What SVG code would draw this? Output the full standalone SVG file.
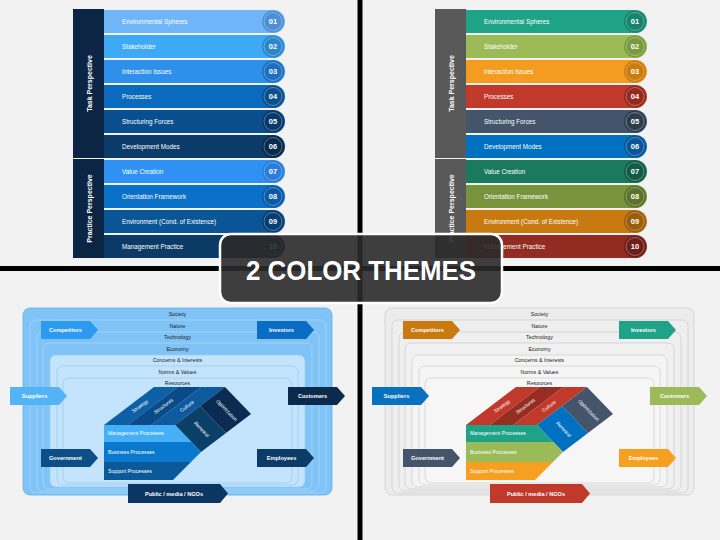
<svg xmlns="http://www.w3.org/2000/svg" width="720" height="540" viewBox="0 0 720 540">
<defs>
<style>
text{font-family:"Liberation Sans",Arial,sans-serif}
.rt{font-size:6.3px;fill:#fff}
.num{font-size:7.5px;font-weight:bold;fill:#fff;text-anchor:middle}
.ring{fill:none;stroke:#fff;stroke-opacity:.45;stroke-width:.7}
.vt{font-size:7px;font-weight:bold;fill:#fff;text-anchor:middle}
.fl{font-size:5.3px;fill:#222;text-anchor:middle}
.tg{font-size:5.6px;font-weight:bold;fill:#fff;text-anchor:middle}
.cl{font-size:5.2px;fill:#fff}
.cr{font-size:5px;fill:#fff;text-anchor:middle}
.fo{stroke-width:.8}
</style>
</defs>
<rect width="720" height="540" fill="#f2f2f2"/>

<!-- TOP LEFT: blue list -->
<g id="list-blue">
<g id="bar-blue">
<rect x="73" y="9" width="31" height="149" fill="#0c2544"/>
<rect x="73" y="159" width="31" height="99" fill="#0c2544"/>
<text class="vt" transform="translate(91.5,83.5) rotate(-90)">Task Perspective</text>
<text class="vt" transform="translate(91.5,208.5) rotate(-90)">Practice Perspective</text>
</g>
<g id="b01"><path d="M104,10H273.5A11.5,11.5 0 0 1 273.5,33H104Z" fill="#6fb5f8"/><circle cx="273" cy="21.5" r="11" fill="#4d8fd4"/><circle class="ring" cx="273" cy="21.5" r="9"/><text class="rt" x="122" y="23.8">Environmental Spheres</text><text class="num" x="273" y="24.2">01</text></g>
<g id="b02"><path d="M104,35H273.5A11.5,11.5 0 0 1 273.5,58H104Z" fill="#3ea9f5"/><circle cx="273" cy="46.5" r="11" fill="#2b86cc"/><circle class="ring" cx="273" cy="46.5" r="9"/><text class="rt" x="122" y="48.8">Stakeholder</text><text class="num" x="273" y="49.2">02</text></g>
<g id="b03"><path d="M104,60H273.5A11.5,11.5 0 0 1 273.5,83H104Z" fill="#2e90ea"/><circle cx="273" cy="71.5" r="11" fill="#1d6fc0"/><circle class="ring" cx="273" cy="71.5" r="9"/><text class="rt" x="122" y="73.8">Interaction Issues</text><text class="num" x="273" y="74.2">03</text></g>
<g id="b04"><path d="M104,85H273.5A11.5,11.5 0 0 1 273.5,108H104Z" fill="#0a6abd"/><circle cx="273" cy="96.5" r="11" fill="#0b4f8c"/><circle class="ring" cx="273" cy="96.5" r="9"/><text class="rt" x="122" y="98.8">Processes</text><text class="num" x="273" y="99.2">04</text></g>
<g id="b05"><path d="M104,110H273.5A11.5,11.5 0 0 1 273.5,133H104Z" fill="#0a4e8e"/><circle cx="273" cy="121.5" r="11" fill="#08396a"/><circle class="ring" cx="273" cy="121.5" r="9"/><text class="rt" x="122" y="123.8">Structuring Forces</text><text class="num" x="273" y="124.2">05</text></g>
<g id="b06"><path d="M104,135H273.5A11.5,11.5 0 0 1 273.5,158H104Z" fill="#0b3b68"/><circle cx="273" cy="146.5" r="11" fill="#082a4c"/><circle class="ring" cx="273" cy="146.5" r="9"/><text class="rt" x="122" y="148.8">Development Modes</text><text class="num" x="273" y="149.2">06</text></g>
<g id="b07"><path d="M104,160H273.5A11.5,11.5 0 0 1 273.5,183H104Z" fill="#2f92f2"/><circle cx="273" cy="171.5" r="11" fill="#2a7ed8"/><circle class="ring" cx="273" cy="171.5" r="9"/><text class="rt" x="122" y="173.8">Value Creation</text><text class="num" x="273" y="174.2">07</text></g>
<g id="b08"><path d="M104,185H273.5A11.5,11.5 0 0 1 273.5,208H104Z" fill="#0a70c8"/><circle cx="273" cy="196.5" r="11" fill="#0a5aa5"/><circle class="ring" cx="273" cy="196.5" r="9"/><text class="rt" x="122" y="198.8">Orientation Framework</text><text class="num" x="273" y="199.2">08</text></g>
<g id="b09"><path d="M104,210H273.5A11.5,11.5 0 0 1 273.5,233H104Z" fill="#0a5595"/><circle cx="273" cy="221.5" r="11" fill="#083f72"/><circle class="ring" cx="273" cy="221.5" r="9"/><text class="rt" x="122" y="223.8">Environment (Cond. of Existence)</text><text class="num" x="273" y="224.2">09</text></g>
<g id="b10"><path d="M104,235H273.5A11.5,11.5 0 0 1 273.5,258H104Z" fill="#0b3a66"/><circle cx="273" cy="246.5" r="11" fill="#072a4a"/><circle class="ring" cx="273" cy="246.5" r="9"/><text class="rt" x="122" y="248.8">Management Practice</text><text class="num" x="273" y="249.2">10</text></g>
</g>

<!-- TOP RIGHT: colored list -->
<g id="list-color" transform="translate(362,0)">
<g id="bar-color">
<rect x="73" y="9" width="31" height="149" fill="#595959"/>
<rect x="73" y="159" width="31" height="99" fill="#595959"/>
<text class="vt" transform="translate(91.5,83.5) rotate(-90)">Task Perspective</text>
<text class="vt" transform="translate(91.5,208.5) rotate(-90)">Practice Perspective</text>
</g>
<g id="c01"><path d="M104,10H273.5A11.5,11.5 0 0 1 273.5,33H104Z" fill="#1fa386"/><circle cx="273" cy="21.5" r="11" fill="#16836b"/><circle class="ring" cx="273" cy="21.5" r="9"/><text class="rt" x="122" y="23.8">Environmental Spheres</text><text class="num" x="273" y="24.2">01</text></g>
<g id="c02"><path d="M104,35H273.5A11.5,11.5 0 0 1 273.5,58H104Z" fill="#9bbb59"/><circle cx="273" cy="46.5" r="11" fill="#7a9a3e"/><circle class="ring" cx="273" cy="46.5" r="9"/><text class="rt" x="122" y="48.8">Stakeholder</text><text class="num" x="273" y="49.2">02</text></g>
<g id="c03"><path d="M104,60H273.5A11.5,11.5 0 0 1 273.5,83H104Z" fill="#f39c1f"/><circle cx="273" cy="71.5" r="11" fill="#cc7a0c"/><circle class="ring" cx="273" cy="71.5" r="9"/><text class="rt" x="122" y="73.8">Interaction Issues</text><text class="num" x="273" y="74.2">03</text></g>
<g id="c04"><path d="M104,85H273.5A11.5,11.5 0 0 1 273.5,108H104Z" fill="#c0392b"/><circle cx="273" cy="96.5" r="11" fill="#96291e"/><circle class="ring" cx="273" cy="96.5" r="9"/><text class="rt" x="122" y="98.8">Processes</text><text class="num" x="273" y="99.2">04</text></g>
<g id="c05"><path d="M104,110H273.5A11.5,11.5 0 0 1 273.5,133H104Z" fill="#44546a"/><circle cx="273" cy="121.5" r="11" fill="#2f3c4e"/><circle class="ring" cx="273" cy="121.5" r="9"/><text class="rt" x="122" y="123.8">Structuring Forces</text><text class="num" x="273" y="124.2">05</text></g>
<g id="c06"><path d="M104,135H273.5A11.5,11.5 0 0 1 273.5,158H104Z" fill="#0070c0"/><circle cx="273" cy="146.5" r="11" fill="#0a5597"/><circle class="ring" cx="273" cy="146.5" r="9"/><text class="rt" x="122" y="148.8">Development Modes</text><text class="num" x="273" y="149.2">06</text></g>
<g id="c07"><path d="M104,160H273.5A11.5,11.5 0 0 1 273.5,183H104Z" fill="#1b7a5e"/><circle cx="273" cy="171.5" r="11" fill="#125c47"/><circle class="ring" cx="273" cy="171.5" r="9"/><text class="rt" x="122" y="173.8">Value Creation</text><text class="num" x="273" y="174.2">07</text></g>
<g id="c08"><path d="M104,185H273.5A11.5,11.5 0 0 1 273.5,208H104Z" fill="#77933c"/><circle cx="273" cy="196.5" r="11" fill="#5a722a"/><circle class="ring" cx="273" cy="196.5" r="9"/><text class="rt" x="122" y="198.8">Orientation Framework</text><text class="num" x="273" y="199.2">08</text></g>
<g id="c09"><path d="M104,210H273.5A11.5,11.5 0 0 1 273.5,233H104Z" fill="#c87a10"/><circle cx="273" cy="221.5" r="11" fill="#9c5d0a"/><circle class="ring" cx="273" cy="221.5" r="9"/><text class="rt" x="122" y="223.8">Environment (Cond. of Existence)</text><text class="num" x="273" y="224.2">09</text></g>
<g id="c10"><path d="M104,235H273.5A11.5,11.5 0 0 1 273.5,258H104Z" fill="#922b21"/><circle cx="273" cy="246.5" r="11" fill="#6e1f17"/><circle class="ring" cx="273" cy="246.5" r="9"/><text class="rt" x="122" y="248.8">Management Practice</text><text class="num" x="273" y="249.2">10</text></g>
</g>

<!-- BOTTOM LEFT: blue frames -->
<g id="frames-blue">
<g id="fb-society"><rect class="fo" x="23" y="308" width="309" height="187" rx="7" fill="#7fc3f7" stroke="#63b1ec"/><text class="fl" x="177.5" y="316">Society</text></g>
<g id="fb-nature"><rect class="fo" x="30" y="320" width="296" height="173" rx="6" fill="#7fc3f7" stroke="#a9d7fa"/><text class="fl" x="177.5" y="327.5">Nature</text></g>
<g id="fb-technology"><rect class="fo" x="37" y="332" width="282" height="159" rx="6" fill="#7fc3f7" stroke="#a9d7fa"/><text class="fl" x="177.5" y="339">Technology</text></g>
<g id="fb-economy"><rect class="fo" x="43" y="343" width="269" height="146" rx="6" fill="#7fc3f7" stroke="#a9d7fa"/><text class="fl" x="177.5" y="350.5">Economy</text></g>
<g id="fb-concerns"><rect class="fo" x="50" y="355" width="255" height="132" rx="6" fill="#c3e4fc" stroke="#9ccbee"/><text class="fl" x="177.5" y="362">Concerns &amp; Interests</text></g>
<g id="fb-norms"><rect class="fo" x="57" y="366" width="241" height="119" rx="6" fill="#c3e4fc" stroke="#9ccbee"/><text class="fl" x="177.5" y="373.5">Norms &amp; Values</text></g>
<g id="fb-resources"><rect class="fo" x="63" y="378" width="229" height="105" rx="6" fill="#c3e4fc" stroke="#9ccbee"/><text class="fl" x="177.5" y="385">Resources</text></g>
</g>
<g id="cube-blue">
<g id="cb-top">
<polygon points="104,425 127.7,425 177.7,387 154,387" fill="#0d5fa6"/>
<polygon points="127.7,425 151.3,425 201.3,387 177.7,387" fill="#0b4a88"/>
<polygon points="151.3,425 175,425 225,387 201.3,387" fill="#0d5a9e"/>
<text class="cr" transform="translate(141,407.5) rotate(-37)">Strategy</text>
<text class="cr" transform="translate(164.5,407.5) rotate(-37)">Structures</text>
<text class="cr" transform="translate(188,407.5) rotate(-37)">Culture</text>
</g>
<g id="cb-side">
<polygon points="200,406 225,387 251,414 226,433" fill="#0a2c52"/>
<polygon points="175,425 200,406 226,433 201,452" fill="#0a4068"/>
<text class="cr" transform="translate(225.5,411.5) rotate(46)">Optimization</text>
<text class="cr" transform="translate(200.5,430.5) rotate(46)">Renewal</text>
</g>
<g id="cb-front">
<polygon points="104,425 175,425 191.4,442 104,442" fill="#45b0f7"/>
<polygon points="104,442 191.4,442 201,452 191,462 104,462" fill="#0a78cc"/>
<polygon points="104,462 191,462 173,480 104,480" fill="#0a5a9a"/>
<text class="cl" x="108" y="435">Management Processes</text>
<text class="cl" x="108" y="454">Business Processes</text>
<text class="cl" x="108" y="473">Support Processes</text>
</g>
</g>
<g id="tags-blue">
<g id="tb-competitors"><path d="M41,321H90L98,330L90,339H41Z" fill="#2b9af0"/><text class="tg" x="65.5" y="332">Competitors</text></g>
<g id="tb-investors"><path d="M257,321H306L314,330L306,339H257Z" fill="#0a6cc2"/><text class="tg" x="281.5" y="332">Investors</text></g>
<g id="tb-suppliers"><path d="M10,387H59L67,396L59,405H10Z" fill="#53b3f7"/><text class="tg" x="34.5" y="398">Suppliers</text></g>
<g id="tb-customers"><path d="M288,387H337L345,396L337,405H288Z" fill="#0b2a4d"/><text class="tg" x="312.5" y="398">Customers</text></g>
<g id="tb-government"><path d="M41,449H90L98,458L90,467H41Z" fill="#0b4f86"/><text class="tg" x="65.5" y="460">Government</text></g>
<g id="tb-employees"><path d="M257,449H306L314,458L306,467H257Z" fill="#0b3b66"/><text class="tg" x="281.5" y="460">Employees</text></g>
<g id="tb-public"><path d="M128,484H220L228,493.5L220,503H128Z" fill="#0b3563"/><text class="tg" x="174" y="495.5">Public / media / NGOs</text></g>
</g>

<!-- BOTTOM RIGHT: colored frames -->
<g id="frames-color" transform="translate(362,0)">
<g id="fc-society"><rect class="fo" x="23" y="308" width="309" height="187" rx="7" fill="#ececec" stroke="#cfcfcf"/><text class="fl" x="177.5" y="316">Society</text></g>
<g id="fc-nature"><rect class="fo" x="30" y="320" width="296" height="173" rx="6" fill="#eeeeee" stroke="#cfcfcf"/><text class="fl" x="177.5" y="327.5">Nature</text></g>
<g id="fc-technology"><rect class="fo" x="37" y="332" width="282" height="159" rx="6" fill="#efefef" stroke="#cfcfcf"/><text class="fl" x="177.5" y="339">Technology</text></g>
<g id="fc-economy"><rect class="fo" x="43" y="343" width="269" height="146" rx="6" fill="#f0f0f0" stroke="#cfcfcf"/><text class="fl" x="177.5" y="350.5">Economy</text></g>
<g id="fc-concerns"><rect class="fo" x="50" y="355" width="255" height="132" rx="6" fill="#f4f4f4" stroke="#d2d2d2"/><text class="fl" x="177.5" y="362">Concerns &amp; Interests</text></g>
<g id="fc-norms"><rect class="fo" x="57" y="366" width="241" height="119" rx="6" fill="#f5f5f5" stroke="#d2d2d2"/><text class="fl" x="177.5" y="373.5">Norms &amp; Values</text></g>
<g id="fc-resources"><rect class="fo" x="63" y="378" width="229" height="105" rx="6" fill="#f6f6f6" stroke="#d2d2d2"/><text class="fl" x="177.5" y="385">Resources</text></g>
</g>
<g id="cube-color" transform="translate(362,0)">
<g id="cc-top">
<polygon points="104,425 127.7,425 177.7,387 154,387" fill="#c0392b"/>
<polygon points="127.7,425 151.3,425 201.3,387 177.7,387" fill="#962d22"/>
<polygon points="151.3,425 175,425 225,387 201.3,387" fill="#c0392b"/>
<text class="cr" transform="translate(141,407.5) rotate(-37)">Strategy</text>
<text class="cr" transform="translate(164.5,407.5) rotate(-37)">Structures</text>
<text class="cr" transform="translate(188,407.5) rotate(-37)">Culture</text>
</g>
<g id="cc-side">
<polygon points="200,406 225,387 251,414 226,433" fill="#44546a"/>
<polygon points="175,425 200,406 226,433 201,452" fill="#0070c0"/>
<text class="cr" transform="translate(225.5,411.5) rotate(46)">Optimization</text>
<text class="cr" transform="translate(200.5,430.5) rotate(46)">Renewal</text>
</g>
<g id="cc-front">
<polygon points="104,425 175,425 191.4,442 104,442" fill="#1fa386"/>
<polygon points="104,442 191.4,442 201,452 191,462 104,462" fill="#9bbb59"/>
<polygon points="104,462 191,462 173,480 104,480" fill="#f5a020"/>
<text class="cl" x="108" y="435">Management Processes</text>
<text class="cl" x="108" y="454">Business Processes</text>
<text class="cl" x="108" y="473">Support Processes</text>
</g>
</g>
<g id="tags-color" transform="translate(362,0)">
<g id="tc-competitors"><path d="M41,321H90L98,330L90,339H41Z" fill="#c87a10"/><text class="tg" x="65.5" y="332">Competitors</text></g>
<g id="tc-investors"><path d="M257,321H306L314,330L306,339H257Z" fill="#1fa386"/><text class="tg" x="281.5" y="332">Investors</text></g>
<g id="tc-suppliers"><path d="M10,387H59L67,396L59,405H10Z" fill="#0a70c0"/><text class="tg" x="34.5" y="398">Suppliers</text></g>
<g id="tc-customers"><path d="M288,387H337L345,396L337,405H288Z" fill="#9bbb59"/><text class="tg" x="312.5" y="398">Customers</text></g>
<g id="tc-government"><path d="M41,449H90L98,458L90,467H41Z" fill="#44546a"/><text class="tg" x="65.5" y="460">Government</text></g>
<g id="tc-employees"><path d="M257,449H306L314,458L306,467H257Z" fill="#f5a020"/><text class="tg" x="281.5" y="460">Employees</text></g>
<g id="tc-public"><path d="M128,484H220L228,493.5L220,503H128Z" fill="#c0392b"/><text class="tg" x="174" y="495.5">Public / media / NGOs</text></g>
</g>

<!-- dividers -->
<g id="dividers">
<rect x="357.5" y="0" width="5" height="540" fill="#000"/>
<rect x="0" y="266" width="720" height="5" fill="#000"/>
</g>

<!-- banner -->
<g id="banner">
<rect x="220" y="234" width="282" height="69" rx="11" fill="#2a2a2a" fill-opacity=".9" stroke="#fff" stroke-width="2.5"/>
<text x="361" y="280" font-size="28" font-weight="bold" fill="#fff" text-anchor="middle" textLength="230" lengthAdjust="spacingAndGlyphs">2 COLOR THEMES</text>
</g>
</svg>
